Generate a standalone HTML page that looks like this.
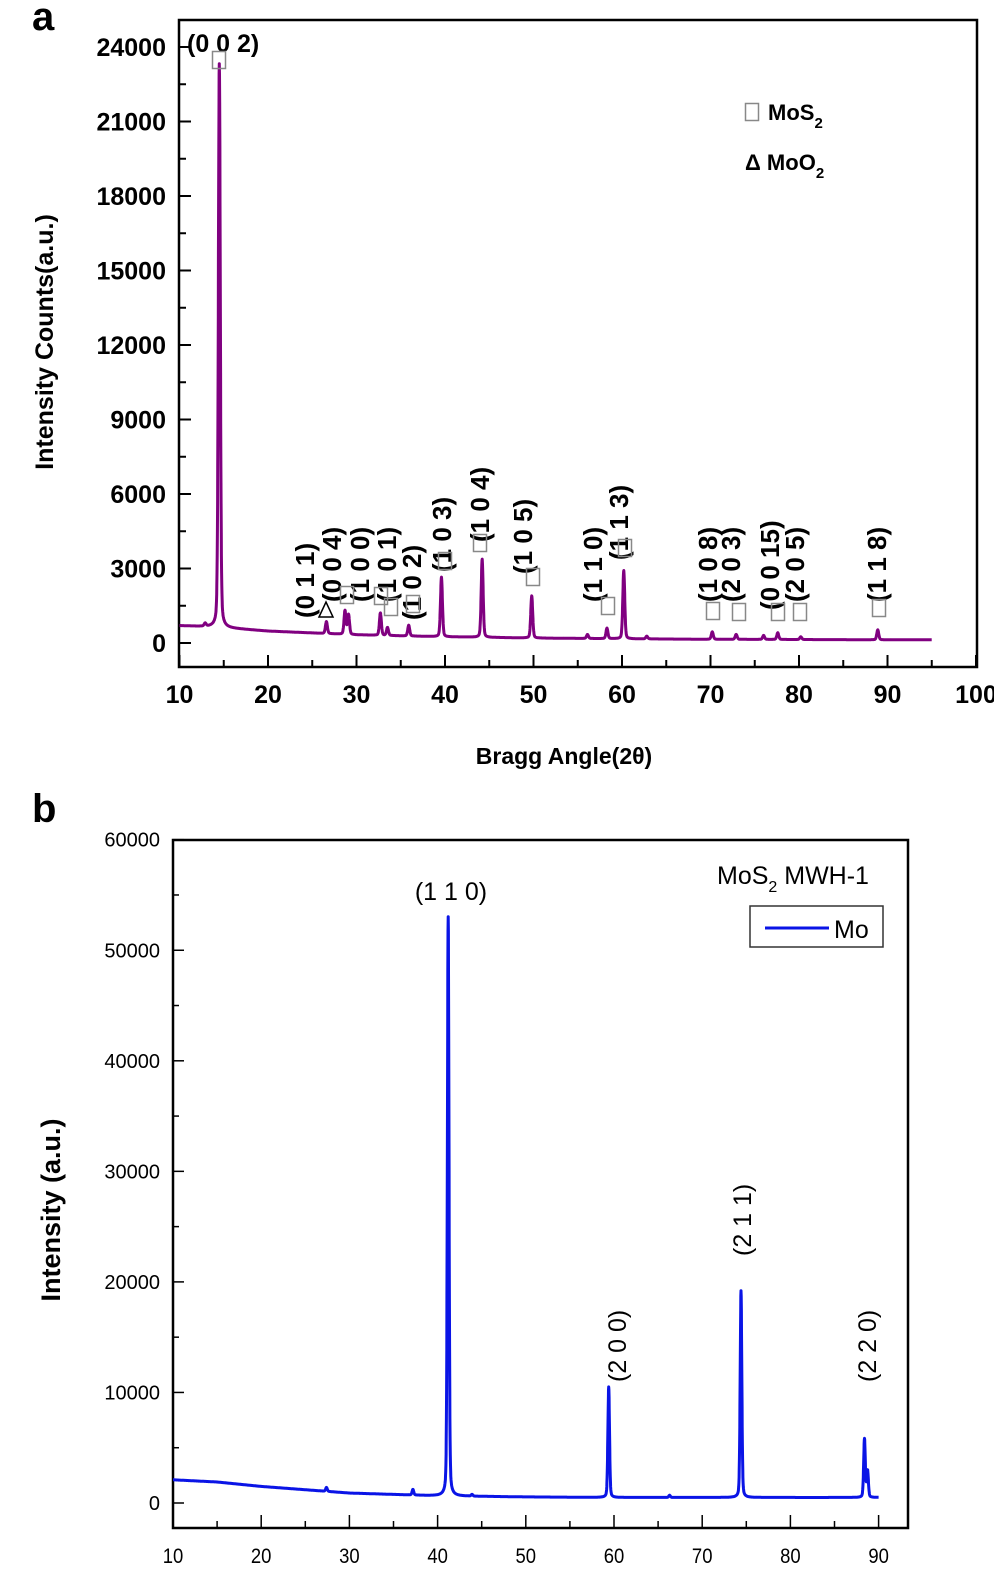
<!DOCTYPE html>
<html><head><meta charset="utf-8"><style>
html,body{margin:0;padding:0;background:#fff;}
svg{display:block;font-family:"Liberation Sans",sans-serif;}
.b{font-weight:bold;}
</style></head><body>
<svg id="s" width="994" height="1570" viewBox="0 0 994 1570" xmlns="http://www.w3.org/2000/svg">
<g id="pa"></g>
<g id="pb"></g>
</svg>
<script>
// ---- Panel a data ----
const aBgX = [10, 14, 20, 30, 40, 50, 60, 70, 80, 90, 95];
const aBgY = [700, 640, 480, 330, 250, 200, 170, 150, 140, 130, 130];
const aPeakX = [14.5, 26.6, 28.7, 29.1, 32.7, 33.5, 35.9, 39.6, 44.2, 49.8, 56.1, 58.3, 60.2, 62.8, 70.2, 72.9, 76.0, 77.6, 80.2, 88.9, 12.9];
const aPeakH = [22700, 480, 950, 800, 900, 320, 430, 2400, 3150, 1700, 160, 420, 2750, 110, 300, 200, 160, 270, 110, 400, 120];
const aXTicks = [10, 20, 30, 40, 50, 60, 70, 80, 90, 100];
const aYTicks = [0, 3000, 6000, 9000, 12000, 15000, 18000, 21000, 24000];
// ---- Panel b data ----
const bBgX = [10, 15, 20, 30, 40, 50, 60, 70, 80, 90];
const bBgY = [2100, 1900, 1500, 900, 650, 550, 500, 500, 500, 500];
const bPeakX = [41.2, 59.4, 74.4, 88.4, 88.75, 27.4, 37.2, 66.3, 43.9];
const bPeakH = [52400, 10000, 18700, 5300, 2400, 350, 500, 200, 150];
const bXTicks = [10, 20, 30, 40, 50, 60, 70, 80, 90];
const bYTicks = [0, 10000, 20000, 30000, 40000, 50000, 60000];

const NS = "http://www.w3.org/2000/svg";
function mk(parent, tag, attrs, text) {
  const e = document.createElementNS(NS, tag);
  for (const k in attrs) e.setAttribute(k, attrs[k]);
  if (text !== undefined) e.textContent = text;
  parent.appendChild(e);
  return e;
}
function bg(xs, ys, x) {
  for (let i = 0; i < xs.length - 1; i++) {
    if (x <= xs[i + 1]) { const t = (x - xs[i]) / (xs[i + 1] - xs[i]); return ys[i] + t * (ys[i + 1] - ys[i]); }
  }
  return ys[ys.length - 1];
}
function curve(bx, by, px, ph, w, x0, x1) {
  const pts = [];
  for (let x = x0; x <= x1 + 1e-9; x += 0.02) {
    let y = bg(bx, by, x);
    for (let i = 0; i < px.length; i++) {
      const d = (x - px[i]) / w;
      y += ph[i] * (0.75 * Math.exp(-d * d * 0.693) + 0.25 / (1 + d * d));
    }
    pts.push([x, y]);
  }
  return pts;
}

// ===== Panel A =====
const A = document.getElementById('pa');
const aL = 179, aR = 977, aT = 20, aB = 667;
const ax = v => 179.5 + (v - 10) * 8.85;
const ay = v => 643 - v * 74.5 / 3000;
let e;
e = mk(A, 'text', {x: 32, y: 30, 'font-size': 40, class: 'b'}, 'a');


e = mk(A, 'rect', {x: aL, y: aT, width: aR - aL, height: aB - aT, fill: 'none', stroke: '#000', 'stroke-width': 2.5});


aXTicks.forEach(v => {
  const x = ax(v);
  e = mk(A, 'line', {x1: x, x2: x, y1: aB, y2: aB - 12, stroke: '#000', 'stroke-width': 2});
  
  
  if (v < 100) { e = mk(A, 'line', {x1: x + 44.25, x2: x + 44.25, y1: aB, y2: aB - 7, stroke: '#000', 'stroke-width': 2});
    
     }
  e = mk(A, 'text', {x: x, y: 703, 'font-size': 25, 'text-anchor': 'middle', class: 'b'}, String(v));
  
  
});
aYTicks.forEach(v => {
  const y = ay(v);
  e = mk(A, 'line', {x1: aL, x2: aL + 12, y1: y, y2: y, stroke: '#000', 'stroke-width': 2});
  
  
  if (v < 24000) { e = mk(A, 'line', {x1: aL, x2: aL + 7, y1: ay(v + 1500), y2: ay(v + 1500), stroke: '#000', 'stroke-width': 2});
    
     }
  e = mk(A, 'text', {x: 166, y: y + 9, 'font-size': 25, 'text-anchor': 'end', class: 'b'}, String(v));
  
  
});
e = mk(A, 'text', {x: 564, y: 764, 'font-size': 23, 'text-anchor': 'middle', class: 'b'}, 'Bragg Angle(2θ)');


e = mk(A, 'text', {x: 0, y: 0, 'font-size': 25, 'text-anchor': 'middle', class: 'b', transform: 'translate(53,342) rotate(-90)'}, 'Intensity Counts(a.u.)');


const aPts = curve(aBgX, aBgY, aPeakX, aPeakH, 0.13, 10, 95);
e = mk(A, 'polyline', {points: aPts.map(p => ax(p[0]).toFixed(1) + ',' + ay(p[1]).toFixed(1)).join(' '), fill: 'none', stroke: '#800080', 'stroke-width': 3, 'stroke-linejoin': 'round'});


// annotations
const hklA = [['(0 1 1)',304,618],['(0 0 4)',331,602],['(1 0 0)',359,602],['(1 0 1)',386,602],['(1 0 2)',411,620],['(1 0 3)',441,572],['(1 0 4)',479,542],['(1 0 5)',522,574],['(1 1 0)',592,602],['(1 1 3)',618,560],['(1 0 8)',707,602],['(2 0 3)',730,602],['(0 0 15)',769,610],['(2 0 5)',794,602],['(1 1 8)',876,602]];
hklA.forEach(h => {
  e = mk(A, 'text', {x: 0, y: 0, 'font-size': 26, class: 'b', transform: `translate(${h[1] + 10},${h[2]}) rotate(-90)`}, h[0]);
  
  
});
e = mk(A, 'text', {x: 187, y: 52, 'font-size': 25, class: 'b'}, '(0 0 2)');


const sq = [[219,60],[347,595],[381,596],[391,607],[413,604],[445,561],[480,543],[533,577],[608,606],[625,548],[713,611],[739,612],[778,612],[800,612],[879,608],[752,112]];
sq.forEach(s => {
  e = mk(A, 'rect', {x: s[0] - 6.5, y: s[1] - 8.5, width: 13, height: 17, fill: 'none', stroke: '#888', 'stroke-width': 1.5});
  
  
});
e = mk(A, 'path', {d: 'M319,617 L326,602 L333,617 Z', fill: 'none', stroke: '#000', 'stroke-width': 1.5});


e = mk(A, 'text', {x: 768, y: 120, 'font-size': 22, class: 'b'});


e.innerHTML = 'MoS<tspan dy="8" font-size="15">2</tspan>';
e = mk(A, 'text', {x: 745, y: 170, 'font-size': 22, class: 'b'});


e.innerHTML = 'Δ MoO<tspan dy="8" font-size="15">2</tspan>';

// ===== Panel B =====
const B = document.getElementById('pb');
const bL = 173, bR = 908, bT = 840, bB = 1528;
const bx = v => 173 + (v - 10) * 8.82;
const by = v => 1503 - v * 0.011055;
e = mk(B, 'text', {x: 32, y: 822, 'font-size': 40, class: 'b'}, 'b');


e = mk(B, 'rect', {x: bL, y: bT, width: bR - bL, height: bB - bT, fill: 'none', stroke: '#000', 'stroke-width': 2.5});


bXTicks.forEach(v => {
  const x = bx(v);
  e = mk(B, 'line', {x1: x, x2: x, y1: bB, y2: bB - 13, stroke: '#000', 'stroke-width': 1.5});
  
  
  if (v < 90) { e = mk(B, 'line', {x1: x + 44.1, x2: x + 44.1, y1: bB, y2: bB - 7, stroke: '#000', 'stroke-width': 1.5});
    
     }
  e = mk(B, 'text', {x: x, y: 1563, 'font-size': 21, 'text-anchor': 'middle', transform: `translate(${x * 0.12},0) scale(0.88,1)`}, String(v));
  
  
});
bYTicks.forEach(v => {
  const y = by(v);
  e = mk(B, 'line', {x1: bL, x2: bL + 11, y1: y, y2: y, stroke: '#000', 'stroke-width': 1.5});
  
  
  if (v < 60000) { e = mk(B, 'line', {x1: bL, x2: bL + 6, y1: by(v + 5000), y2: by(v + 5000), stroke: '#000', 'stroke-width': 1.5});
    
     }
  e = mk(B, 'text', {x: 160, y: y + 7, 'font-size': 20, 'text-anchor': 'end'}, String(v));
  
  
});
e = mk(B, 'text', {x: 0, y: 0, 'font-size': 27, 'text-anchor': 'middle', class: 'b', transform: 'translate(60,1210) rotate(-90)'}, 'Intensity (a.u.)');


const bPts = curve(bBgX, bBgY, bPeakX, bPeakH, 0.11, 10, 90);
e = mk(B, 'polyline', {points: bPts.map(p => bx(p[0]).toFixed(1) + ',' + by(p[1]).toFixed(1)).join(' '), fill: 'none', stroke: '#0a14e6', 'stroke-width': 3, 'stroke-linejoin': 'round'});


e = mk(B, 'text', {x: 451, y: 900, 'font-size': 25, 'text-anchor': 'middle'}, '(1 1 0)');


[['(2 0 0)',617,1382],['(2 1 1)',742,1256],['(2 2 0)',867,1382]].forEach(h => {
  e = mk(B, 'text', {x: 0, y: 0, 'font-size': 25, transform: `translate(${h[1] + 9},${h[2]}) rotate(-90)`}, h[0]);
  
  
});
e = mk(B, 'text', {x: 717, y: 884, 'font-size': 25});


e.innerHTML = 'MoS<tspan dy="8" font-size="16">2</tspan><tspan dy="-8"> MWH-1</tspan>';
e = mk(B, 'rect', {x: 750, y: 906, width: 133, height: 41, fill: '#fff', stroke: '#333', 'stroke-width': 1.5});


e = mk(B, 'line', {x1: 765, x2: 829, y1: 928, y2: 928, stroke: '#0a14e6', 'stroke-width': 3});


e = mk(B, 'text', {x: 834, y: 938, 'font-size': 25}, 'Mo');


</script>
</body></html>
